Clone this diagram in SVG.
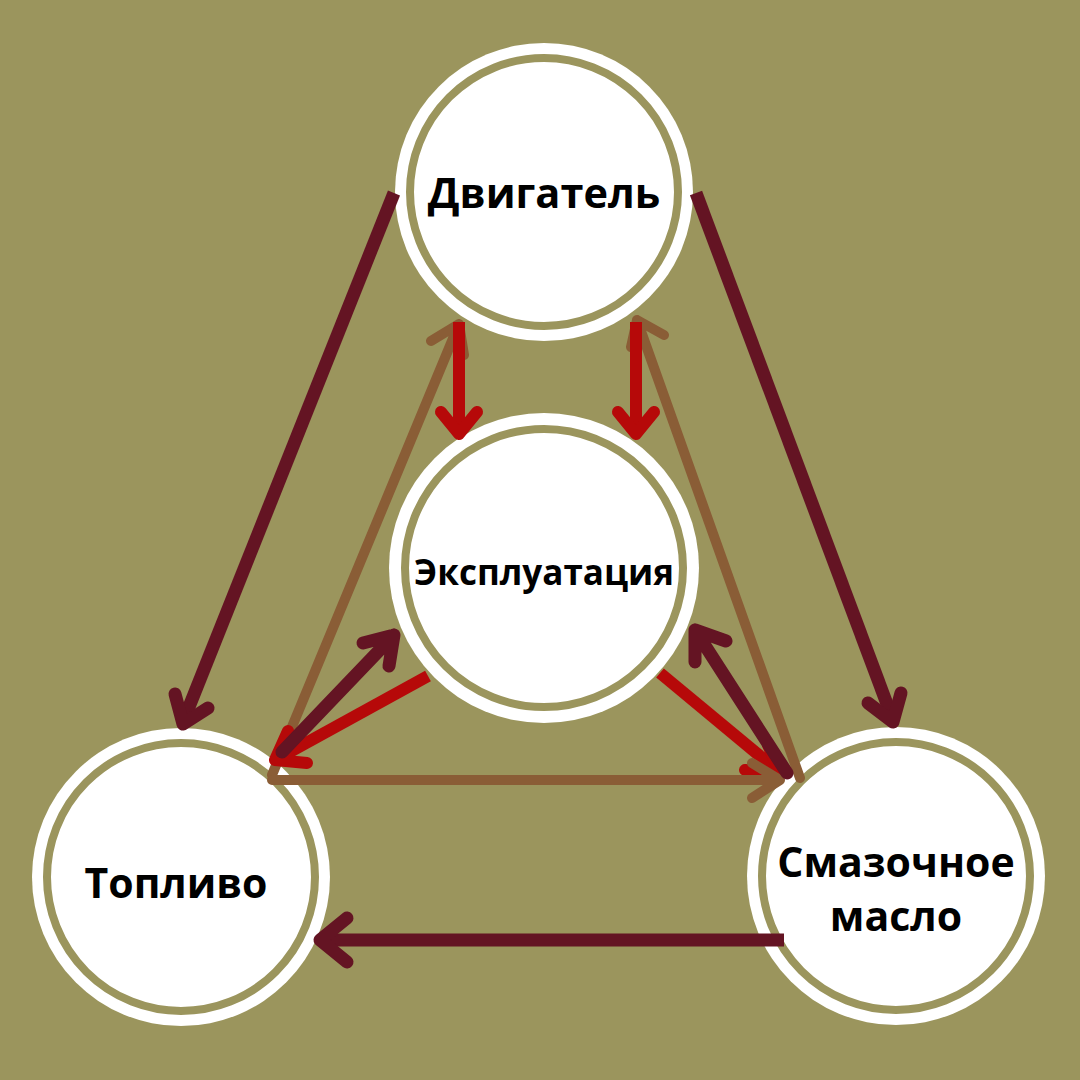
<svg xmlns="http://www.w3.org/2000/svg" width="1080" height="1080" viewBox="0 0 1080 1080">
<style>
.outer{fill:#ffffff}
.ring{fill:#ffffff;stroke:#9b955d;stroke-width:8}
.lbl{font-family:"Open Sans","Noto Sans","DejaVu Sans",sans-serif;font-weight:700;fill:#000000;text-anchor:middle}
.c{fill:none;stroke-linecap:round;stroke-linejoin:round}
.s{fill:none;stroke-linecap:butt}
.m{stroke:#641423;stroke-width:13}
.b{stroke:#8a5d36;stroke-width:10}
.r{stroke:#b60909;stroke-width:12}
</style>
<rect width="1080" height="1080" fill="#9b955d"/>
<g id="node-engine">
<circle class="outer" cx="544" cy="192" r="149"/>
<circle class="ring" cx="544" cy="192" r="134"/>
<text class="lbl" x="544" y="208" font-size="41.5">Двигатель</text>
</g>
<g id="node-operation">
<circle class="outer" cx="544" cy="568" r="155"/>
<circle class="ring" cx="544" cy="568" r="139"/>
<text class="lbl" x="544" y="585" font-size="35">Эксплуатация</text>
</g>
<g id="node-fuel">
<circle class="outer" cx="181" cy="877" r="149"/>
<circle class="ring" cx="181" cy="877" r="134"/>
<text class="lbl" x="176" y="898" font-size="41">Топливо</text>
</g>
<g id="node-oil">
<circle class="outer" cx="896" cy="876" r="149"/>
<circle class="ring" cx="896" cy="876" r="134"/>
<text class="lbl" x="896" y="877" font-size="41">Смазочное</text>
<text class="lbl" x="896" y="931" font-size="41">масло</text>
</g>
<g id="connectors">
<!-- engine -> fuel -->
<path class="s m" d="M394,193 L183,722"/>
<path class="c m" d="M175,694 L183,724 L208,708"/>
<!-- engine -> oil -->
<path class="s m" d="M696,193 L893,720"/>
<path class="c m" d="M868,703 L893,722 L901,693"/>
<!-- oil -> fuel -->
<path class="s m" d="M784,940 L322,940"/>
<path class="c m" d="M347,918 L320,940 L347,962"/>
<!-- fuel -> engine (brown) -->
<path class="c b" d="M272,775 L459,324 M431,341 L459,324 L464,355"/>
<!-- oil -> engine (brown) -->
<path class="c b" d="M800,778 L637,320 M631,347 L637,320 L664,335"/>
<!-- engine -> operation (red) -->
<path class="s r" d="M459,322 L459,432"/>
<path class="c r" d="M441,412 L459,434 L477,412"/>
<path class="s r" d="M636,322 L636,432"/>
<path class="c r" d="M618,412 L636,434 L654,412"/>
<!-- operation -> fuel (red) -->
<path class="s r" d="M428,676 L277,759"/>
<path class="c r" d="M288,731 L275,760 L307,763"/>
<!-- fuel -> operation (maroon) -->
<path class="c m" d="M282,752 L394,635 M363,643 L394,635 L389,666"/>
<!-- operation -> oil (red) -->
<path class="s r" d="M660,673 L778,771"/>
<path class="c r" d="M745,770 L780,773 L768,745"/>
<!-- fuel -> oil (brown) -->
<path class="c b" d="M272,780 L780,780 M752,763 L780,780 L752,798"/>
<!-- oil -> operation (maroon) -->
<path class="c m" d="M787,773 L695,630 M695,662 L695,630 L726,641"/>
</g>
</svg>
